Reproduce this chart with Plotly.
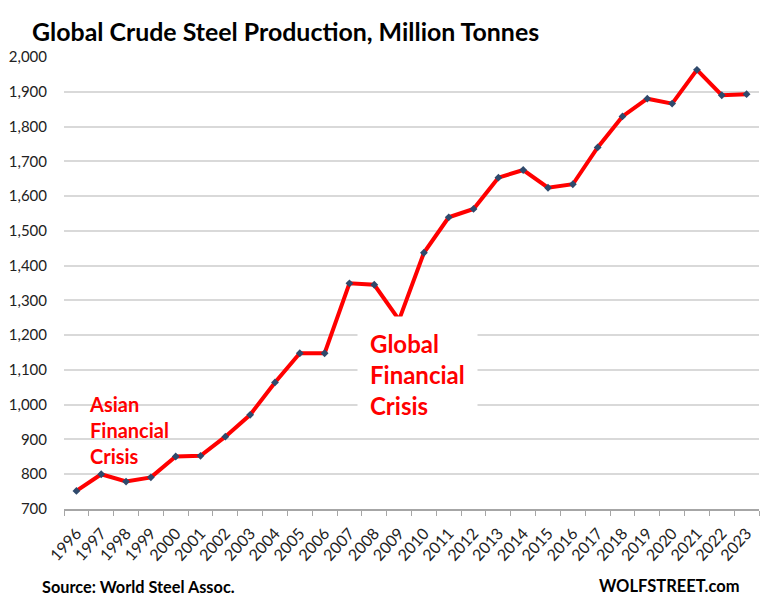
import plotly.graph_objects as go

years = [str(y) for y in range(1996, 2024)]
production = [752, 800, 779, 791, 851, 853, 908, 971, 1064, 1148, 1148, 1349, 1345, 1244,
              1437, 1539, 1563, 1653, 1675, 1624, 1634, 1740, 1829, 1880, 1866, 1963, 1890, 1893]

FONT = "Lato"

# plot area in pixels
L, R, T, B = 64, 759, 57, 509
PW, PH = R - L, B - T

def px(x):
    return (x - L) / PW

def py(y):
    return (B - y) / PH

fig = go.Figure()
fig.add_trace(go.Scatter(
    x=years, y=production, mode="lines+markers",
    line=dict(color="#FF0000", width=4),
    marker=dict(symbol="diamond", size=6, color="#2F4A6C"),
    hoverinfo="x+y", showlegend=False,
))

fig.update_layout(
    width=768, height=604,
    margin=dict(l=L, r=768 - R, t=T, b=604 - B),
    paper_bgcolor="white", plot_bgcolor="white",
    font=dict(family=FONT, color="#222222"),
    title=dict(text="<b>Global Crude Steel Production, Million Tonnes</b>",
               x=32/768, xanchor="left", y=1-32/604, yanchor="middle",
               font=dict(family=FONT, size=24.9, color="#000000")),
    xaxis=dict(type="category", tickson="boundaries", ticks="outside", ticklen=5,
               tickcolor="#a6a6a6", showline=True, linecolor="#a6a6a6", linewidth=1.5,
               showgrid=False, tickangle=-48, ticklabelstandoff=7,
               tickfont=dict(size=16, color="#222222"),
               range=[-0.5, 27.5]),
    yaxis=dict(range=[700, 2000], dtick=100, tickformat=",", showgrid=True,
               gridcolor="#d9d9d9", gridwidth=1.5, zeroline=False, showline=False,
               ticks="", ticklabelstandoff=16, tickfont=dict(size=15, color="#222222")),
)

fig.add_annotation(x=0.44, y=928, xref="x", yref="y", xanchor="left", yanchor="middle",
                   text="<b>Asian<br>Financial<br>Crisis</b>", align="left", showarrow=False,
                   font=dict(family=FONT, size=20, color="#FF0000"))
fig.add_annotation(x=11.29, y=1086, xref="x", yref="y", xanchor="left", yanchor="middle",
                   text="<b>Global<br>Financial<br>Crisis</b>", align="left", showarrow=False,
                   bgcolor="white", borderpad=12,
                   font=dict(family=FONT, size=24, color="#FF0000"))
fig.add_annotation(x=px(40), y=py(586), xref="paper", yref="paper", xanchor="left",
                   yanchor="middle", text="<b>Source: World Steel Assoc.</b>", showarrow=False,
                   font=dict(family=FONT, size=16.3, color="#000000"))
fig.add_annotation(x=px(742), y=py(586), xref="paper", yref="paper", xanchor="right",
                   yanchor="middle", text="<b>WOLFSTREET.com</b>", showarrow=False,
                   font=dict(family=FONT, size=16.5, color="#000000"))

fig.write_html("out.html")
